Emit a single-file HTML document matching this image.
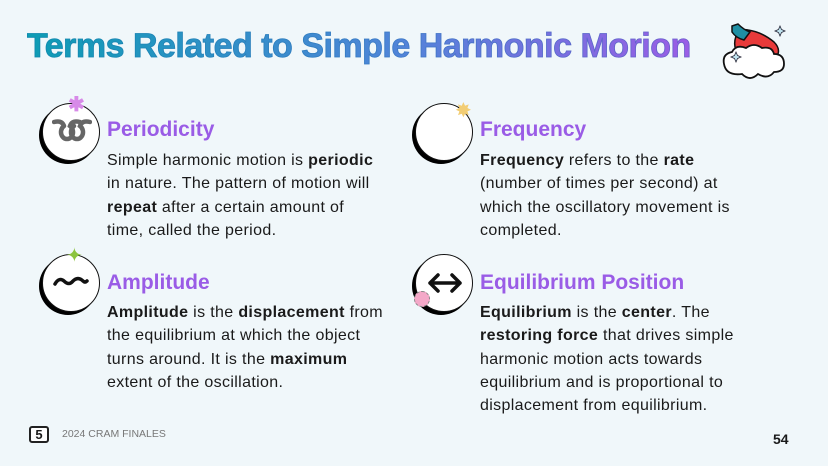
<!DOCTYPE html>
<html><head><meta charset="utf-8"><style>
*{margin:0;padding:0;box-sizing:border-box}
body{width:828px;height:466px;background:#f0f7fa;font-family:"Liberation Sans",sans-serif;position:relative;overflow:hidden;color:#1a1a1a}
h1{position:absolute;left:27px;top:27px;font-size:34px;font-weight:900;letter-spacing:-0.5px;background:linear-gradient(90deg,#0d9cb4,#4f85d8 55%,#9b5de5);-webkit-background-clip:text;background-clip:text;color:transparent;-webkit-text-stroke:0.8px rgba(20,100,160,0.35);white-space:nowrap}
.c{position:absolute;width:58px;height:58px;border-radius:50%;background:#fff;border:1.5px solid #111;box-shadow:-3px 3px 0 #000}
.h{position:absolute;font-size:21px;font-weight:bold;color:#9a5ce6}
.t{position:absolute;font-size:16px;letter-spacing:0.35px;line-height:23.3px;color:#1a1a1a;white-space:nowrap}
.t b{font-weight:bold}
.foot{position:absolute;left:62px;top:428px;font-size:10.5px;color:#777}
.pn{position:absolute;left:773px;top:431px;font-size:14px;font-weight:bold}
</style></head><body>
<h1>Terms Related to Simple Harmonic Morion</h1>

<svg style="position:absolute;left:718px;top:20px" width="82" height="62" viewBox="0 0 82 62">
<path d="M18 16 Q22 8 30 10 Q44 12 56 22 Q62 28 60 34 L22 36 Q14 28 18 16Z" fill="#e83a3a" stroke="#111" stroke-width="1.5"/>
<path d="M14 6 L20 4 Q26 10 32 12 L26 20 Q18 18 14 12Z" fill="#1f8fa3" stroke="#111" stroke-width="1.5"/>
<path d="M6 44 Q4 34 14 32 Q18 24 28 28 Q36 22 44 28 Q54 26 56 34 Q66 34 66 44 Q66 52 56 52 Q50 60 40 54 Q32 62 24 54 Q8 56 6 44Z" fill="#fff" stroke="#111" stroke-width="1.8"/>
<path d="M62 6 l1.5 3.5 3.5 1.5 -3.5 1.5 -1.5 3.5 -1.5 -3.5 -3.5 -1.5 3.5 -1.5z" fill="#bfe3ee" stroke="#223" stroke-width="0.8"/>
<path d="M18 32 l1.5 3.5 3.5 1.5 -3.5 1.5 -1.5 3.5 -1.5 -3.5 -3.5 -1.5 3.5 -1.5z" fill="#bfe3ee" stroke="#223" stroke-width="0.8"/>
</svg>

<div class="c" style="left:42px;top:103px"></div>
<svg style="position:absolute;left:52px;top:118px" width="40" height="26" viewBox="0 0 40 26">
<g fill="none" stroke="#666" stroke-width="4.5" stroke-linecap="round">
<path d="M2 4 Q10 2 12 8 M12 8 A6 7 0 1 0 18 8 Q20 2 28 4"/>
<path d="M22 8 A6 7 0 1 0 28 8 Q30 2 38 4"/>
</g></svg>
<div style="position:absolute;left:68px;top:92px;font-size:20px;color:#d78ae8;font-weight:bold">✱</div>
<div class="h" style="left:107px;top:118px">Periodicity</div>
<div class="t" style="left:107px;top:149px">Simple harmonic motion is <b>periodic</b><br>in nature. The pattern of motion will<br><b>repeat</b> after a certain amount of<br>time, called the period.</div>

<div class="c" style="left:415px;top:103px"></div>
<div style="position:absolute;left:455px;top:98px;font-size:20px;color:#f2cd74">✸</div>
<div class="h" style="left:480px;top:118px">Frequency</div>
<div class="t" style="left:480px;top:149px"><b>Frequency</b> refers to the <b>rate</b><br>(number of times per second) at<br>which the oscillatory movement is<br>completed.</div>

<div class="c" style="left:42px;top:254px"></div>
<svg style="position:absolute;left:53px;top:274px" width="36" height="16" viewBox="0 0 36 16">
<path d="M2 10 Q6 3 11 7 Q16 12 20 7 Q25 2 30 7 Q32 9 34 7" fill="none" stroke="#111" stroke-width="3.5" stroke-linecap="round"/></svg>
<div style="position:absolute;left:66px;top:243px;font-size:20px;color:#8cc43f">✦</div>
<div class="h" style="left:107px;top:271px">Amplitude</div>
<div class="t" style="left:107px;top:301px"><b>Amplitude</b> is the <b>displacement</b> from<br>the equilibrium at which the object<br>turns around. It is the <b>maximum</b><br>extent of the oscillation.</div>

<div class="c" style="left:415px;top:254px"></div>
<svg style="position:absolute;left:427px;top:272px" width="36" height="22" viewBox="0 0 36 22">
<g fill="none" stroke="#111" stroke-width="3.5" stroke-linecap="round" stroke-linejoin="round">
<path d="M3 11 H33 M11 3 L3 11 L11 19 M25 3 L33 11 L25 19"/></g></svg>
<div style="position:absolute;left:414px;top:291px;width:16px;height:16px;border-radius:50%;background:#f4a8c8;border:1px dashed #888"></div>
<div class="h" style="left:480px;top:271px">Equilibrium Position</div>
<div class="t" style="left:480px;top:301px"><b>Equilibrium</b> is the <b>center</b>. The<br><b>restoring force</b> that drives simple<br>harmonic motion acts towards<br>equilibrium and is proportional to<br>displacement from equilibrium.</div>

<div style="position:absolute;left:29px;top:426px;width:20px;height:17px;border:2px solid #222;border-radius:3px;font-size:13px;font-weight:900;text-align:center;line-height:14px;background:#fff">5</div>
<div class="foot">2024 CRAM FINALES</div>
<div class="pn">54</div>
</body></html>
